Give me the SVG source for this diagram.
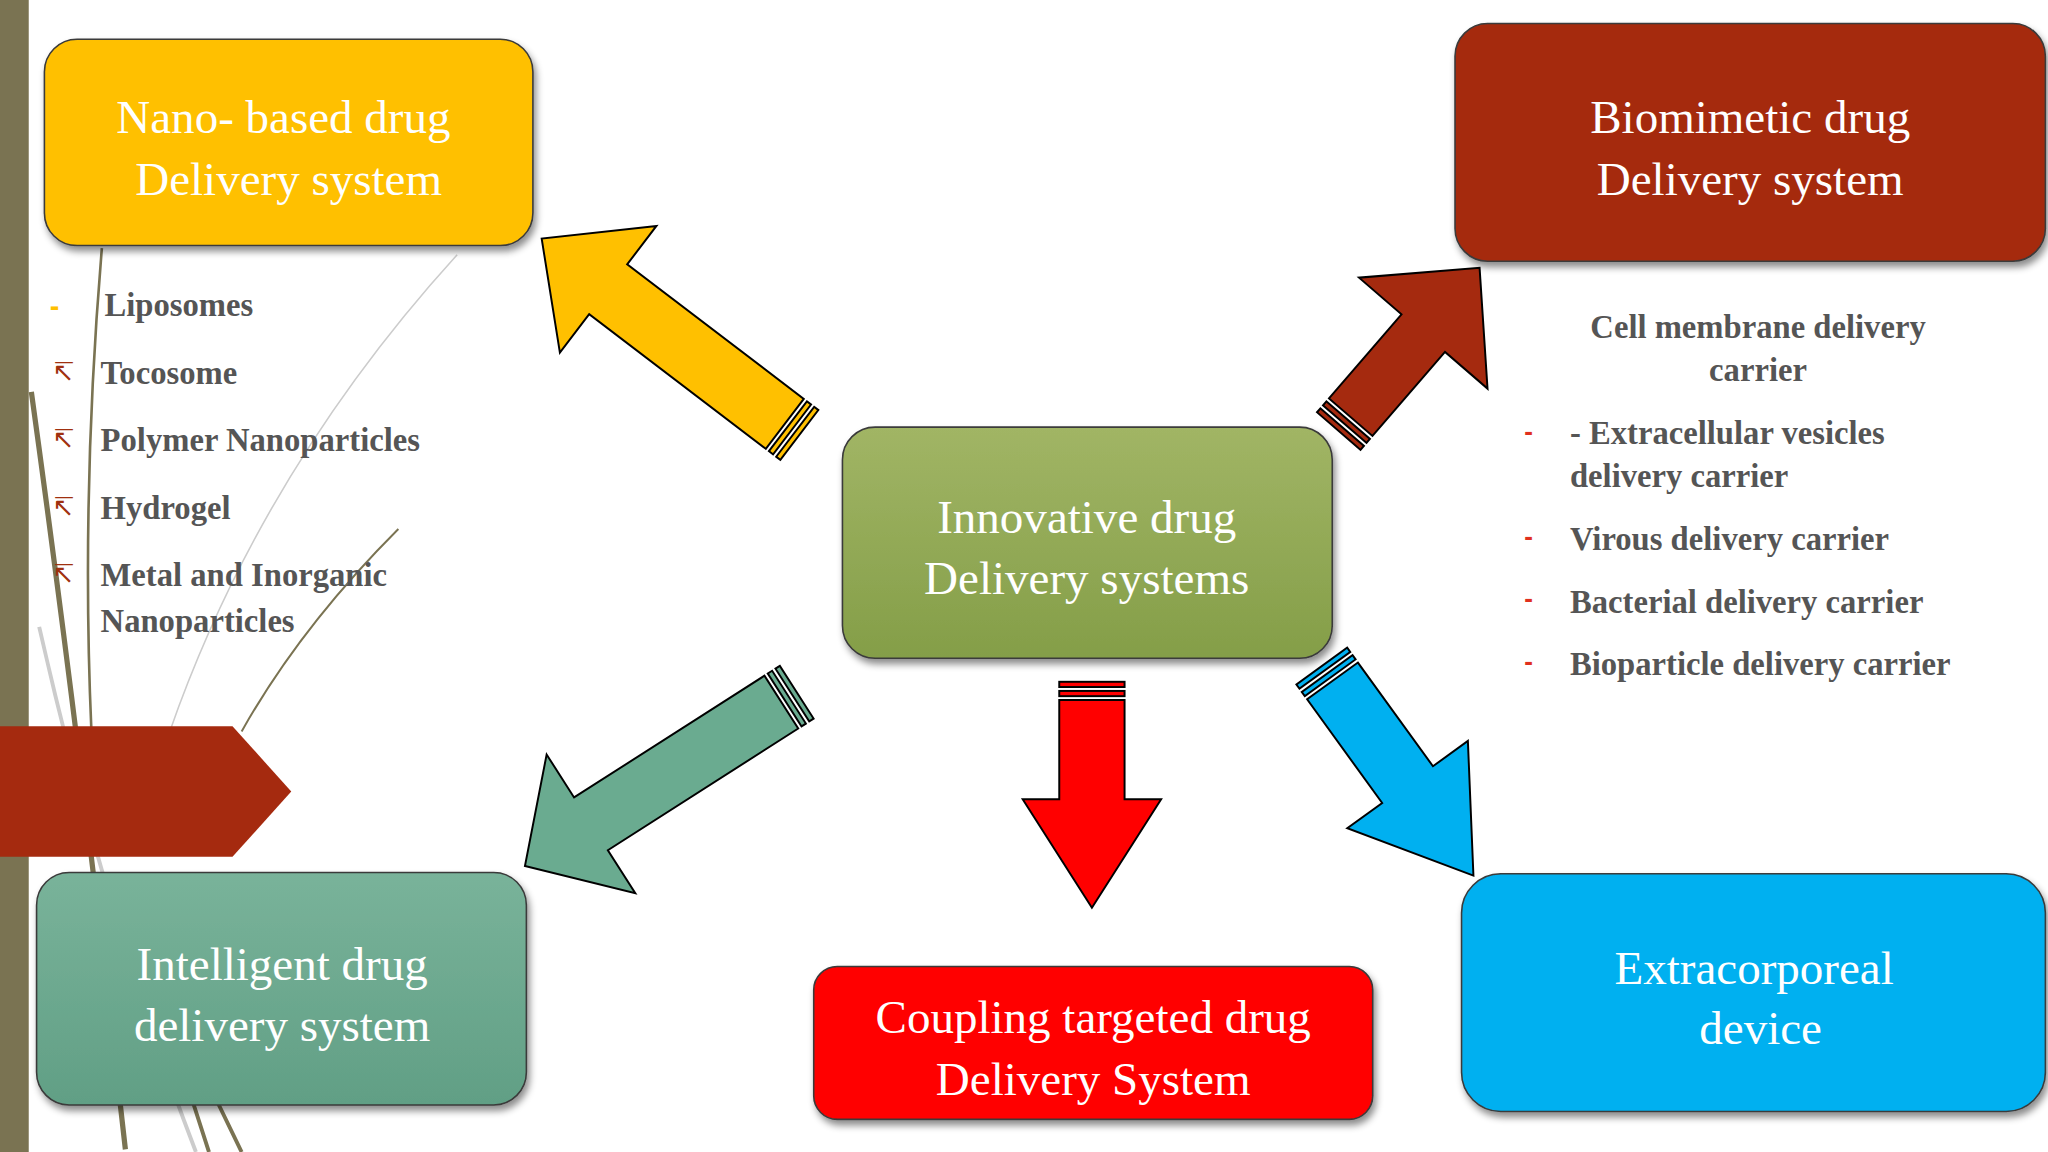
<svg xmlns="http://www.w3.org/2000/svg" width="2048" height="1152" viewBox="0 0 2048 1152">
<defs>
<filter id="sh" x="-10%" y="-10%" width="125%" height="130%"><feDropShadow dx="2" dy="4" stdDeviation="3" flood-color="#000" flood-opacity="0.45"/></filter>
<linearGradient id="gG" x1="0" y1="0" x2="0" y2="1"><stop offset="0" stop-color="#a1b565"/><stop offset="1" stop-color="#849e48"/></linearGradient>
<linearGradient id="gT" x1="0" y1="0" x2="0" y2="1"><stop offset="0" stop-color="#79b39a"/><stop offset="1" stop-color="#619f85"/></linearGradient>
<style>
.box{stroke:#3a3a3a;stroke-width:1.2;filter:url(#sh)}
.bt{font-family:"Liberation Serif",serif;font-size:36px;fill:#fff;text-anchor:middle}
.li{font-family:"Liberation Serif",serif;font-size:25px;font-weight:bold;fill:#555}
.bu{font-family:"DejaVu Sans",sans-serif;font-size:20px;fill:#a0300f}
.ar{stroke:#000;stroke-width:1.5;stroke-linejoin:miter}
</style>
</defs>
<rect width="2048" height="1152" fill="#fff"/>
<g transform="scale(1.30612)">
<g id="decor" fill="none">
<rect x="0" y="0" width="22" height="882" fill="#7a7352"/>
<path d="M78 190 Q62 380 70 560" stroke="#7a7352" stroke-width="2"/>
<path d="M24 300 Q60 560 96 880" stroke="#7a7352" stroke-width="4"/>
<path d="M30 480 Q80 700 150 882" stroke="#ccc" stroke-width="3"/>
<path d="M350 195 Q200 360 130 560" stroke="#ccc" stroke-width="1.2"/>
<path d="M305 405 Q230 480 185 560" stroke="#7a7352" stroke-width="1.5"/>
<path d="M140 820 L160 882 M155 820 L185 882" stroke="#7a7352" stroke-width="3"/>
<polygon points="0,556 178,556 223,606 178,656 0,656" fill="#a52a0f"/>
</g>
<g id="connectors">
<g transform="translate(612,333) rotate(217.3)" fill="#ffc000">
<rect class="ar" x="0" y="-24" width="4" height="48"/><rect class="ar" x="7" y="-24" width="4" height="48"/>
<polygon class="ar" points="14,-24 184,-24 184,-61 248,0 184,61 184,24 14,24"/></g>
<g transform="translate(1025,330) rotate(-49.2)" fill="#a52a0f">
<rect class="ar" x="0" y="-22" width="4" height="44"/><rect class="ar" x="7" y="-22" width="4" height="44"/>
<polygon class="ar" points="14,-22 99,-22 99,-65 165,0 99,65 99,22 14,22"/></g>
<g transform="translate(610,530) rotate(147.4)" fill="#6aab90">
<rect class="ar" x="0" y="-24" width="4" height="48"/><rect class="ar" x="7" y="-24" width="4" height="48"/>
<polygon class="ar" points="14,-24 187,-24 187,-63 247,0 187,63 187,24 14,24"/></g>
<g transform="translate(836,522) rotate(90)" fill="#ff0000">
<rect class="ar" x="0" y="-25" width="4" height="50"/><rect class="ar" x="7" y="-25" width="4" height="50"/>
<polygon class="ar" points="14,-25 90,-25 90,-53 173,0 90,53 90,25 14,25"/></g>
<g transform="translate(1012,510) rotate(54.1)" fill="#00b0f0">
<rect class="ar" x="0" y="-24" width="4" height="48"/><rect class="ar" x="7" y="-24" width="4" height="48"/>
<polygon class="ar" points="14,-24 112,-24 112,-57 198,0 112,57 112,24 14,24"/></g>
</g>
<g id="nano"><rect class="box" x="34" y="30" width="374" height="158" rx="25" fill="#ffc000"/>
<text class="bt" x="217" y="102">Nano- based drug</text><text class="bt" x="221" y="149">Delivery system</text></g>
<g id="bio"><rect class="box" x="1114" y="18" width="452" height="182" rx="25" fill="#a52a0f"/>
<text class="bt" x="1340" y="102">Biomimetic drug</text><text class="bt" x="1340" y="149">Delivery system</text></g>
<g id="center"><rect class="box" x="645" y="327" width="375" height="177" rx="25" fill="url(#gG)"/>
<text class="bt" x="832" y="408">Innovative drug</text><text class="bt" x="832" y="455">Delivery systems</text></g>
<g id="intel"><rect class="box" x="28" y="668" width="375" height="178" rx="25" fill="url(#gT)"/>
<text class="bt" x="216" y="750">Intelligent drug</text><text class="bt" x="216" y="797">delivery system</text></g>
<g id="coupling"><rect class="box" x="623" y="740" width="428" height="117" rx="18" fill="#ff0000"/>
<text class="bt" x="837" y="791">Coupling targeted drug</text><text class="bt" x="837" y="838">Delivery System</text></g>
<g id="extra"><rect class="box" x="1119" y="669" width="447" height="182" rx="30" fill="#00b0f0"/>
<text class="bt" x="1343" y="753">Extracorporeal</text><text class="bt" x="1348" y="799">device</text></g>
<g id="leftlist">
<text x="38" y="242" style="font-family:'Liberation Sans',sans-serif;font-size:22px;font-weight:bold;fill:#ffc000">-</text>
<text class="bu" x="40" y="292">↸</text><text class="bu" x="40" y="343">↸</text><text class="bu" x="40" y="395">↸</text><text class="bu" x="40" y="446">↸</text>
<text class="li" x="80" y="242">Liposomes</text>
<text class="li" x="77" y="294">Tocosome</text>
<text class="li" x="77" y="345">Polymer Nanoparticles</text>
<text class="li" x="77" y="397">Hydrogel</text>
<text class="li" x="77" y="449">Metal and Inorganic</text>
<text class="li" x="77" y="484">Nanoparticles</text>
</g>
<g id="rightlist">
<text class="li" x="1346" y="259" text-anchor="middle">Cell membrane delivery</text>
<text class="li" x="1346" y="292" text-anchor="middle">carrier</text>
<g style="font-family:'Liberation Sans',sans-serif;font-size:20px;font-weight:bold;fill:#e0301e">
<text x="1167" y="337">-</text><text x="1167" y="417">-</text><text x="1167" y="465">-</text><text x="1167" y="513">-</text></g>
<text class="li" x="1202" y="340">-  Extracellular vesicles</text>
<text class="li" x="1202" y="373">delivery carrier</text>
<text class="li" x="1202" y="421">Virous delivery carrier</text>
<text class="li" x="1202" y="469">Bacterial delivery carrier</text>
<text class="li" x="1202" y="517">Bioparticle delivery carrier</text>
</g>
</g>
</svg>
